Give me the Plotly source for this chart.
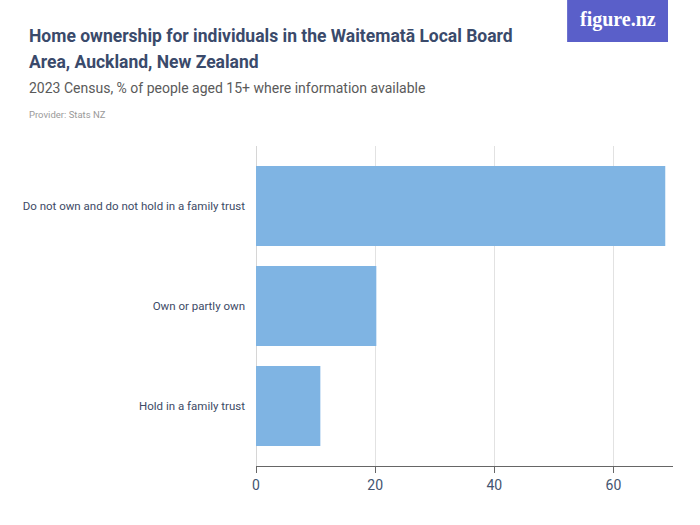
import plotly.graph_objects as go

categories = ["Do not own and do not hold in a family trust", "Own or partly own", "Hold in a family trust"]
values = [68.7, 20.2, 10.8]
tick_vals = [0, 20, 40, 60]

FONT = "Roboto, sans-serif"
W, H = 700, 525
ml, mr, mt, mb = 255.5, 27, 146, 59
pw, ph = W - ml - mr, H - mt - mb


def px(x):
    return (x - ml) / pw


def py(y):
    return 1 - (y - mt) / ph


fig = go.Figure(go.Bar(
    x=values, y=categories, orientation="h",
    marker=dict(color="#7fb4e3", line=dict(width=0)),
    width=0.8, hoverinfo="x+y",
))

fig.update_layout(
    template="none",
    width=W, height=H,
    margin=dict(l=ml, r=mr, t=mt, b=mb, pad=0),
    paper_bgcolor="white", plot_bgcolor="white",
    font=dict(family=FONT, color="#3f4d63"),
    showlegend=False,
    xaxis=dict(
        automargin=False,
        range=[0, 70], tickvals=tick_vals, showgrid=True, gridcolor="#e2e2e2", gridwidth=1,
        zeroline=True, zerolinecolor="#d6d6d6", zerolinewidth=1,
        showline=True, linecolor="#666666", linewidth=1,
        ticks="outside", ticklen=6, tickcolor="#666666",
        tickfont=dict(size=14, color="#445570", family=FONT),
    ),
    yaxis=dict(
        automargin=False,
        range=[2.6, -0.6], showgrid=False, zeroline=False, showline=False,
        ticks="", ticklabelstandoff=10,
        tickfont=dict(size=11.5, color="#3d4a66", family=FONT),
    ),
    annotations=[
        dict(text="<b>Home ownership for individuals in the Waitematā Local Board</b>",
             x=px(26), y=py(24), xanchor="left", yanchor="top",
             showarrow=False, align="left", font=dict(size=17.5, color="#3a4a6b", family=FONT)),
        dict(text="<b>Area, Auckland, New Zealand</b>",
             x=px(26), y=py(50), xanchor="left", yanchor="top",
             showarrow=False, align="left", font=dict(size=17.5, color="#3a4a6b", family=FONT)),
        dict(text="2023 Census, % of people aged 15+ where information available",
             x=px(26), y=py(78), xanchor="left", yanchor="top", showarrow=False,
             font=dict(size=14, color="#5a5a5a", family=FONT)),
        dict(text="Provider: Stats NZ",
             x=px(26), y=py(107), xanchor="left", yanchor="top", showarrow=False,
             font=dict(size=9.5, color="#9a9a9a", family=FONT)),
        dict(text="<b>figure.nz</b>", x=px(617.5), y=py(20), xanchor="center", yanchor="middle", showarrow=False,
             font=dict(size=20, color="white", family="Liberation Serif, serif")),
    ],
    shapes=[dict(type="rect", xref="paper", yref="paper",
                 x0=px(567), x1=px(668), y0=py(0), y1=py(42),
                 fillcolor="#5a5fc9", line=dict(width=0))],
)
for a in fig.layout.annotations:
    a.update(xref="paper", yref="paper")

fig.write_html("out.html")
